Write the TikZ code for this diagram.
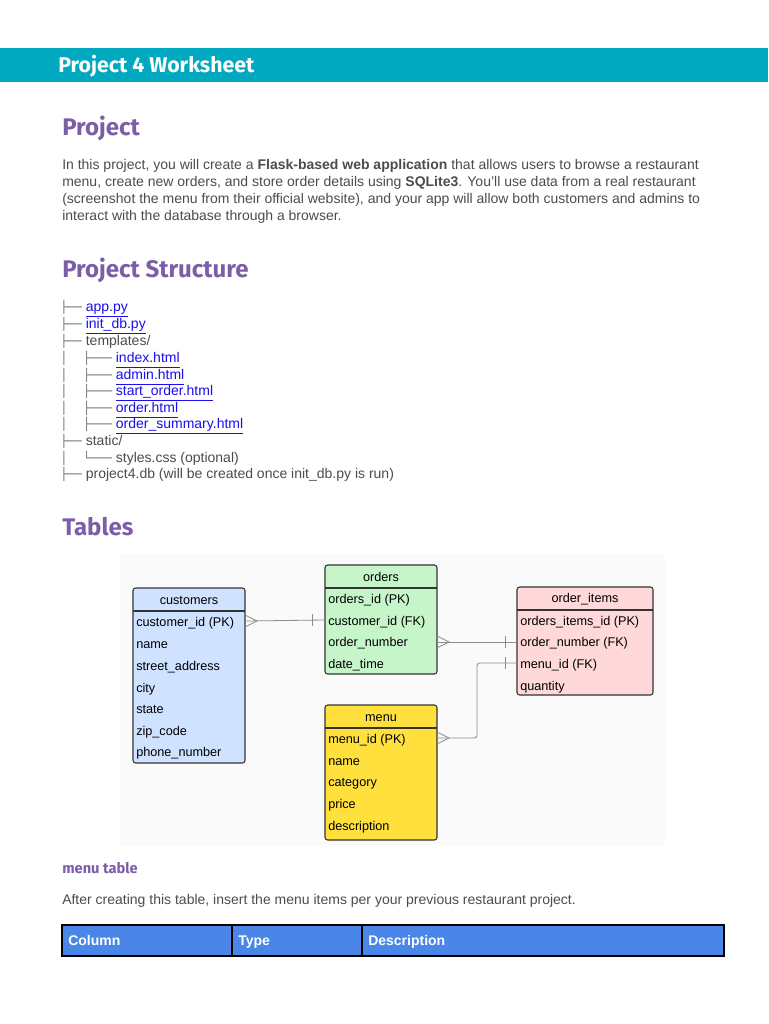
\documentclass[tikz,border=0pt]{standalone}
\usepackage{fontspec}
\setmainfont{Liberation Sans}
\newfontfamily\headfont{Fira Sans}
\newfontfamily\boxfont{DejaVu Sans}
\begin{document}
\begin{tikzpicture}[x=0.75pt,y=-0.75pt,
  body/.style={anchor=west,inner sep=0,text height=1.6ex,text depth=0.4ex,text=black!70,font=\fontsize{10.5}{12}\selectfont},
  hd/.style={anchor=west,inner sep=0,text height=1.6ex,text depth=0.4ex,text=headpurple,font=\headfont\bfseries\fontsize{18}{20}\selectfont},
  tbl/.style={draw=black!80,line width=0.8pt,rounded corners=2pt},
  fld/.style={anchor=west,inner sep=0,text height=1.6ex,text depth=0.4ex,font=\fontsize{9.5}{11}\selectfont},
  ttl/.style={inner sep=0,text height=1.6ex,text depth=0.4ex,font=\fontsize{9.5}{11}\selectfont},
  conn/.style={draw=black!45,line width=0.6pt}]
\definecolor{headpurple}{HTML}{7B5EA7}
\definecolor{teal}{HTML}{00A9BF}
\definecolor{linkblue}{HTML}{1A0DEE}
\definecolor{cblue}{HTML}{CFE2FF}
\definecolor{cgreen}{HTML}{C6F5C9}
\definecolor{cpink}{HTML}{FFD9D9}
\definecolor{cyel}{HTML}{FFE03D}
\definecolor{thblue}{HTML}{4A86E8}
\useasboundingbox (0,0) rectangle (768,1024);
\fill[white] (0,0) rectangle (768,1024);
\fill[teal] (0,48) rectangle (768,82);
\node[anchor=west,inner sep=0,text height=1.6ex,text depth=0.4ex,text=white,font=\headfont\bfseries\fontsize{16}{18}\selectfont] (title) at (58,68) {Project 4 Worksheet};
\node[hd] (h1) at (62,131) {Project};
\node[body] (p1) at (62,165) {In this project, you will create a \textbf{Flask-based web application} that allows users to browse a restaurant};
\node[body] (p2) at (62,182) {menu, create new orders, and store order details using \textbf{SQLite3}. You’ll use data from a real restaurant};
\node[body] (p3) at (62,199) {(screenshot the menu from their official website), and your app will allow both customers and admins to};
\node[body] (p4) at (62,216) {interact with the database through a browser.};
\node[hd] (h2) at (62,273) {Project Structure};
\newcommand{\tb}[1]{{\color{black!55}\boxfont\fontsize{9}{10}\selectfont #1}}
\newcommand{\lk}[1]{{\color{linkblue}\underline{\vphantom{y}#1}}}
\node[body] (t1) at (60,307) {\tb{├──} \lk{app.py}};
\node[body] (t2) at (60,324) {\tb{├──} \lk{init\_db.py}};
\node[body] (t3) at (60,341) {\tb{├──} templates/};
\node[body] (t4) at (60,358) {\tb{│\hspace{1.3em}├───} \lk{index.html}};
\node[body] (t5) at (60,375) {\tb{│\hspace{1.3em}├───} \lk{admin.html}};
\node[body] (t6) at (60,391) {\tb{│\hspace{1.3em}├───} \lk{start\_order.html}};
\node[body] (t7) at (60,408) {\tb{│\hspace{1.3em}├───} \lk{order.html}};
\node[body] (t8) at (60,424) {\tb{│\hspace{1.3em}├───} \lk{order\_summary.html}};
\node[body] (t9) at (60,441) {\tb{├──} static/};
\node[body] (t10) at (60,458) {\tb{│\hspace{1.3em}└───} styles.css (optional)};
\node[body] (t11) at (60,474) {\tb{├──} project4.db (will be created once init\_db.py is run)};
\node[hd] (h3) at (62,531) {Tables};
% ER diagram
\fill[black!2] (120,555) rectangle (665,845);
% customers
\filldraw[tbl,fill=cblue] (133,588) rectangle (245,763);
\draw[black!80,line width=0.8pt] (133,611) -- (245,611);
\node[ttl] (cust) at (189,600) {customers};
\foreach \t/\y/\n in {customer\_id (PK)/622/c1,name/644/c2,street\_address/666/c3,city/688/c4,state/709/c5,zip\_code/731/c6,phone\_number/752/c7}
  \node[fld] (\n) at (136,\y) {\t};
% orders
\filldraw[tbl,fill=cgreen] (325,565) rectangle (437,674);
\draw[black!80,line width=0.8pt] (325,588) -- (437,588);
\node[ttl] (ord) at (381,577) {orders};
\foreach \t/\y/\n in {orders\_id (PK)/599/o1,customer\_id (FK)/621/o2,order\_number/642/o3,date\_time/664/o4}
  \node[fld] (\n) at (328,\y) {\t};
% order_items
\filldraw[tbl,fill=cpink] (517,587) rectangle (653,695);
\draw[black!80,line width=0.8pt] (517,610) -- (653,610);
\node[ttl] (oi) at (585,598) {order\_items};
\foreach \t/\y/\n in {orders\_items\_id (PK)/621/i1,order\_number (FK)/642/i2,menu\_id (FK)/664/i3,quantity/686/i4}
  \node[fld] (\n) at (520,\y) {\t};
% menu
\filldraw[tbl,fill=cyel] (325,705) rectangle (437,840);
\draw[black!80,line width=0.8pt] (325,728) -- (437,728);
\node[ttl] (mn) at (381,717) {menu};
\foreach \t/\y/\n in {menu\_id (PK)/739/m1,name/761/m2,category/782/m3,price/804/m4,description/826/m5}
  \node[fld] (\n) at (328,\y) {\t};
% connectors
\coordinate (a1) at (245,621); \coordinate (a2) at (325,620);
\draw[conn] (a1) -- (a2);
\draw[conn] (245,615) -- (257,621) -- (245,627);
\draw[conn] (312,614) -- (312,626);
\coordinate (b1) at (437,642); \coordinate (b2) at (517,642);
\draw[conn] (b1) -- (b2);
\draw[conn] (437,636) -- (449,642) -- (437,648);
\draw[conn] (505,636) -- (505,648);
\coordinate (d1) at (437,738); \coordinate (d2) at (517,663);
\draw[conn,rounded corners=2pt] (d1) -- (477,738) -- (477,663) -- (d2);
\draw[conn] (437,732) -- (449,738) -- (437,744);
\draw[conn] (505,657) -- (505,669);
% menu table
\node[anchor=west,inner sep=0,text height=1.6ex,text depth=0.4ex,text=headpurple,font=\headfont\bfseries\fontsize{11}{13}\selectfont] (h4) at (62,869) {menu table};
\node[body] (p5) at (62,900) {After creating this table, insert the menu items per your previous restaurant project.};
\filldraw[fill=thblue,draw=black,line width=1pt] (62,925) rectangle (724,956);
\draw[black,line width=1pt] (232,925) -- (232,956) (362,925) -- (362,956);
\foreach \t/\x/\n in {Column/68/k1,Type/238/k2,Description/368/k3}
  \node[anchor=west,inner sep=0,text height=1.6ex,text depth=0.4ex,text=white,font=\bfseries\fontsize{10.5}{12}\selectfont] (\n) at (\x,941) {\t};
\end{tikzpicture}
\end{document}
